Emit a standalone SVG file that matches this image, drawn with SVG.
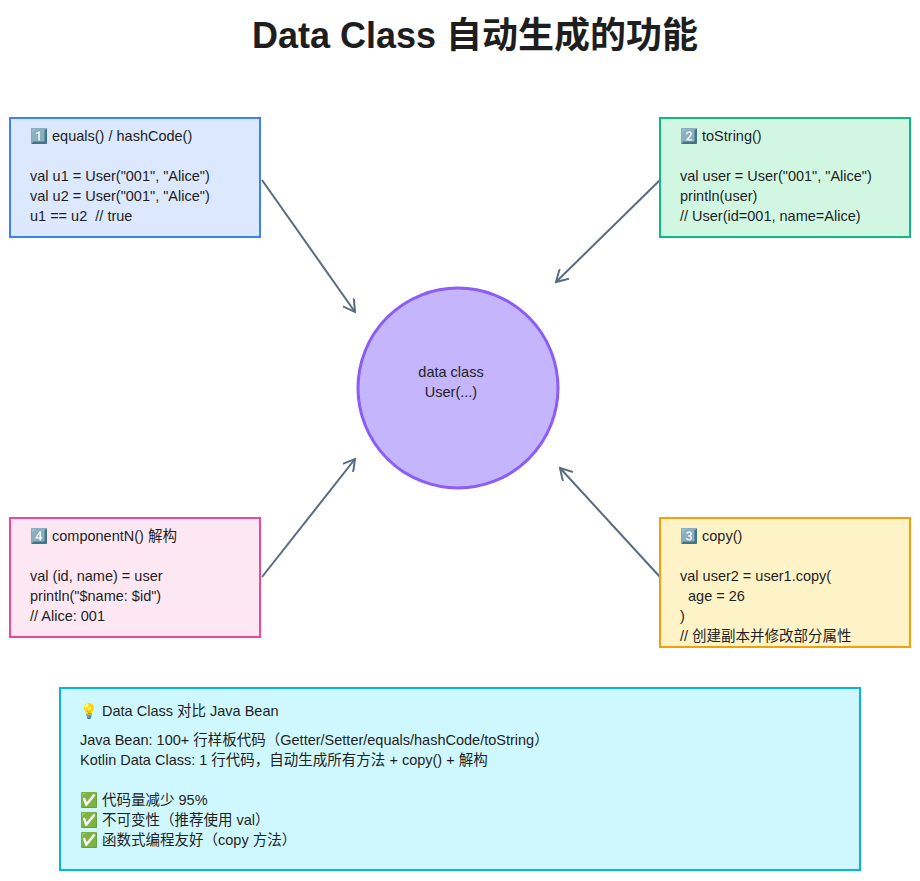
<svg xmlns="http://www.w3.org/2000/svg" width="920" height="881" viewBox="0 0 920 881">
<defs>
<style>
text{font-family:"Liberation Sans","Noto Sans CJK SC",sans-serif;font-size:14.5px;fill:#1e1e1e;white-space:pre}
.t{font-size:36px;font-weight:bold;fill:#1e1e1e}
.e{stroke:#5a6b80;stroke-width:2;fill:none}
</style>
<marker id="a" markerWidth="14" markerHeight="14" refX="12" refY="7" orient="auto" markerUnits="userSpaceOnUse"><path d="M0,0 L12,7 L0,14" fill="none" stroke="#5a6b80" stroke-width="2"/></marker>
</defs>
<rect width="920" height="881" fill="#fff"/>
<text class="t" x="475" y="48" text-anchor="middle">Data Class 自动生成的功能</text>
<g id="connectors">
<line class="e" x1="262" y1="180" x2="355" y2="312" marker-end="url(#a)"/>
<line class="e" x1="660" y1="180" x2="556" y2="282" marker-end="url(#a)"/>
<line class="e" x1="262" y1="577" x2="355" y2="459" marker-end="url(#a)"/>
<line class="e" x1="660" y1="577" x2="560" y2="468" marker-end="url(#a)"/>
</g>
<g id="center"><circle cx="458" cy="388" r="100" fill="#c4b5fd" stroke="#8b5cf6" stroke-width="3"/>
<text x="451" y="377" text-anchor="middle">data class</text><text x="451" y="397" text-anchor="middle">User(...)</text></g>
<g id="n1"><rect x="10" y="118" width="250" height="119" fill="#dbe8fd" stroke="#3b82f6" stroke-width="2"/>
<text x="30" y="141">1️⃣ equals() / hashCode()</text><text x="30" y="181">val u1 = User("001", "Alice")</text><text x="30" y="201">val u2 = User("001", "Alice")</text><text x="30" y="221">u1 == u2  // true</text></g>
<g id="n2"><rect x="660" y="118" width="250" height="119" fill="#d1f7e3" stroke="#10b981" stroke-width="2"/>
<text x="680" y="141">2️⃣ toString()</text><text x="680" y="181">val user = User("001", "Alice")</text><text x="680" y="201">println(user)</text><text x="680" y="221">// User(id=001, name=Alice)</text></g>
<g id="n4"><rect x="10" y="518" width="250" height="119" fill="#fce7f3" stroke="#ec4899" stroke-width="2"/>
<text x="30" y="541">4️⃣ componentN() 解构</text><text x="30" y="581">val (id, name) = user</text><text x="30" y="601">println("$name: $id")</text><text x="30" y="621">// Alice: 001</text></g>
<g id="n3"><rect x="660" y="518" width="250" height="129" fill="#fef3c7" stroke="#f59e0b" stroke-width="2"/>
<text x="680" y="541">3️⃣ copy()</text><text x="680" y="581">val user2 = user1.copy(</text><text x="680" y="601">  age = 26</text><text x="680" y="621">)</text><text x="680" y="641">// 创建副本并修改部分属性</text></g>
<g id="note"><rect x="60" y="688" width="800" height="182" fill="#cff8fe" stroke="#06b6d4" stroke-width="2"/>
<text x="80" y="716">💡 Data Class 对比 Java Bean</text>
<text x="80" y="745">Java Bean: 100+ 行样板代码（Getter/Setter/equals/hashCode/toString）</text>
<text x="80" y="765">Kotlin Data Class: 1 行代码，自动生成所有方法 + copy() + 解构</text>
<text x="80" y="805">✅ 代码量减少 95%</text>
<text x="80" y="825">✅ 不可变性（推荐使用 val）</text>
<text x="80" y="845">✅ 函数式编程友好（copy 方法）</text></g>
</svg>
